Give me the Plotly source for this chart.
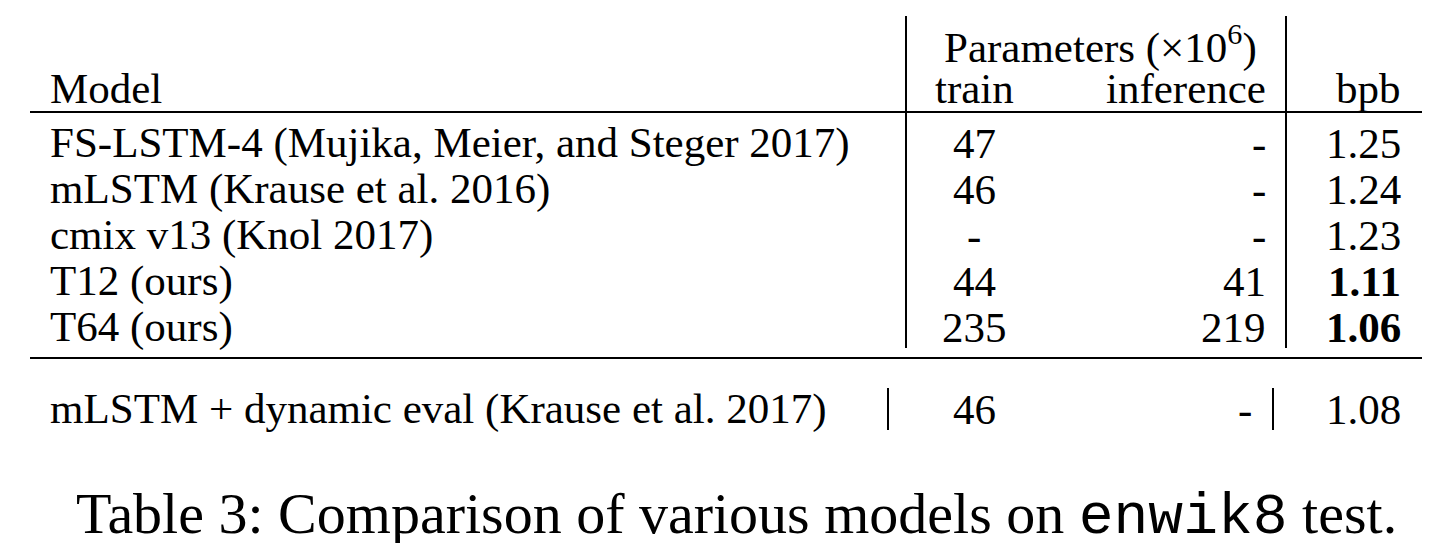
import plotly.graph_objects as go

models = ["FS-LSTM-4 (Mujika, Meier, and Steger 2017)", "mLSTM (Krause et al. 2016)",
          "cmix v13 (Knol 2017)", "T12 (ours)", "T64 (ours)"]
train = ["47", "46", "-", "44", "235"]
inference = ["-", "-", "-", "41", "219"]
bpb = ["1.25", "1.24", "1.23", "<b>1.11</b>", "<b>1.06</b>"]
extra_model = "mLSTM + dynamic eval (Krause et al. 2017)"
extra_train, extra_inf, extra_bpb = "46", "-", "1.08"
caption = 'Table 3: Comparison of various models on <span style="font-family:Liberation Mono">enwik8</span> test.'

FONT = "Liberation Serif, Times New Roman, serif"
fs = 43
fig = go.Figure()
ann = []
def t(x, y, s, anchor, size=fs):
    ann.append(dict(x=x, y=y, xref="x", yref="y", text=s, showarrow=False,
                    xanchor=anchor, yanchor="middle", font=dict(family=FONT, size=size, color="black")))

t(1092, 36, "Parameters (×10<sup>6</sup>)", "center")
t(40, 80, "Model", "left"); t(966, 80, "train", "center")
t(1260, 80, "inference", "right"); t(1395, 80, "bpb", "right")
ys = [135, 181, 227, 273, 319]
for y, m, a, b, c in zip(ys, models, train, inference, bpb):
    t(40, y, m, "left"); t(966, y, a, "center"); t(1260, y, b, "right"); t(1395, y, c, "right")
t(40, 401, extra_model, "left"); t(966, 401, extra_train, "center")
t(1246, 401, extra_inf, "right"); t(1395, 401, extra_bpb, "right")
t(728, 507, caption, "center", size=58)

shapes = []
def line(x0, y0, x1, y1, w=2):
    shapes.append(dict(type="line", x0=x0, y0=y0, x1=x1, y1=y1, xref="x", yref="y",
                       line=dict(color="black", width=w)))
line(22, 104, 1418, 104)
line(22, 350, 1418, 350)
line(898, 8, 898, 340); line(1278, 8, 1278, 340)
line(880, 380, 880, 422); line(1265, 380, 1265, 422)

fig.update_layout(width=1430, height=543, margin=dict(l=0, r=0, t=0, b=0),
                  plot_bgcolor="white", paper_bgcolor="white", annotations=ann, shapes=shapes,
                  xaxis=dict(range=[0, 1430], visible=False, fixedrange=True),
                  yaxis=dict(range=[543, 0], visible=False, fixedrange=True), showlegend=False)
fig.write_html("out.html")
